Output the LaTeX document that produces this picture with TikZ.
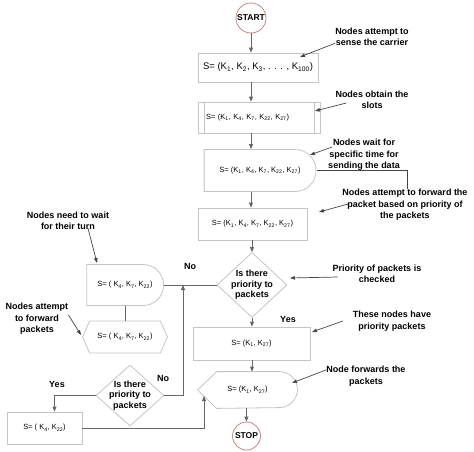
\documentclass[tikz,border=0pt]{standalone}
\usepackage{fontspec}
\setmainfont{Liberation Sans}
\usepackage{xcolor}
\usepackage{tikz}
\usetikzlibrary{positioning,calc,shapes,arrows.meta}
\definecolor{boxgray}{HTML}{C4C4C4}
\definecolor{linegray}{HTML}{666666}
\definecolor{notegray}{HTML}{444444}
\definecolor{ringred}{HTML}{C98484}
\newcommand{\kk}[1]{K\textsubscript{#1}}
\tikzstyle{proc}=[rectangle, draw=boxgray, line width=0.8pt, fill=white, inner sep=1pt, font=\fontsize{7.5}{8.5}\selectfont]
\tikzstyle{waitbox}=[rounded rectangle, rounded rectangle left arc=none, draw=boxgray, line width=0.8pt, inner sep=1pt, font=\fontsize{7.5}{8.5}\selectfont]
\tikzstyle{hexbox}=[signal, signal to=west and east, signal pointer angle=132, draw=boxgray, line width=0.8pt, inner sep=1pt, font=\fontsize{7.5}{8.5}\selectfont]
\tikzstyle{decide}=[diamond, draw=boxgray, line width=0.8pt, inner sep=-6pt, align=center, font=\bfseries\fontsize{9}{10.5}\selectfont]
\tikzstyle{term}=[circle, draw=ringred, line width=0.8pt, inner sep=0pt, font=\bfseries\fontsize{8.5}{9}\selectfont]
\tikzstyle{note}=[align=center, inner sep=0pt, font=\bfseries\fontsize{9}{11.5}\selectfont]
\tikzstyle{flow}=[draw=linegray, line width=0.8pt, -{Triangle[length=5pt,width=4pt]}]
\tikzstyle{link}=[draw=linegray, line width=0.8pt]
\tikzstyle{callout}=[draw=notegray, line width=0.7pt, -{Triangle[length=5pt,width=3.5pt]}]

\begin{document}
\begin{tikzpicture}[x=1pt, y=1pt]
	\useasboundingbox (0,0) rectangle (474,451);
	% main column
	\node[term, minimum size=30] (start) at (251,433) {START};
	\node[proc, minimum width=120, minimum height=29, font=\fontsize{9.5}{10.5}\selectfont] (b1) at (258,383.5) {S= (\kk{1}, \kk{2}, \kk{3}, . . . , \kk{100})};
	\node[proc, text width=106, inner xsep=8, align=left, minimum height=31] (b2) at (259,333.5) {S= (\kk{1}, \kk{4}, \kk{7}, \kk{22}, \kk{27})};
	\draw[boxgray, line width=0.8pt] ([xshift=7]b2.north west) -- ([xshift=7]b2.south west);
	\draw[boxgray, line width=0.8pt] ([xshift=-6]b2.north east) -- ([xshift=-6]b2.south east);
	\node[waitbox, minimum width=114, minimum height=42] (b3) at (260,280.5) {S= (\kk{1}, \kk{4}, \kk{7}, \kk{22}, \kk{27})};
	\node[proc, minimum width=109, minimum height=32] (b4) at (252.5,227) {S= (\kk{1}, \kk{4}, \kk{7}, \kk{22}, \kk{27})};
	\node[decide, minimum width=70, minimum height=65] (d1) at (252,166) {Is there\\priority to\\packets};
	\node[proc, minimum width=117, minimum height=33] (b5) at (251.5,107.5) {S= (\kk{1}, \kk{27})};
	\node[proc, draw=none, fill=none, minimum width=99, minimum height=36] (disp) at (247.5,61) {S= (\kk{1}, \kk{27})};
	\draw[boxgray, line width=0.8pt] (disp.west) -- ([xshift=19]disp.north west) -- ([xshift=-18]disp.north east)
		arc[start angle=90, end angle=-90, radius=18] -- ([xshift=19]disp.south west) -- cycle;
	\node[term, minimum size=28] (stop) at (246.5,15) {STOP};

	% left branch
	\node[waitbox, minimum width=79, minimum height=41] (w1) at (125,166) {S= ( \kk{4}, \kk{7}, \kk{22})};
	\node[hexbox, minimum width=85, minimum height=32] (h1) at (125,114) {S= ( \kk{4}, \kk{7}, \kk{22})};
	\node[decide, minimum width=68, minimum height=61] (d2) at (130,55.5) {Is there\\priority to\\packets};
	\node[proc, minimum width=75, minimum height=32] (b6) at (44.5,23) {S= ( \kk{4}, \kk{22})};
	\coordinate (m1) at (183,166);
	\coordinate (m2) at (204,55);

	\draw[flow] (start) -- (start |- b1.north);
	\draw[flow] (b1.south -| start) -- (b2.north -| start);
	\draw[flow] (b2.south -| start) -- (b3.north -| start);
	\draw[flow] (b3.south -| start) -- (b4.north -| start);
	\draw[flow] (b4.south -| d1) -- (d1.north);
	\draw[flow] (d1.south) -- (d1.south |- b5.north);
	\draw[flow] (b5.south -| d1) -- (disp.north -| d1);
	\draw[flow] (disp.south -| stop) -- (stop.north);
	\draw[link] (d1.west) -- (w1.east);
	\draw[link] (w1.south) -- (h1.north);
	\draw[flow] (d2.east) -| (m1);
	\draw[flow] (d2.west) -| ([xshift=10]b6.north);
	\draw[flow] (b6.east) -| (m2);

	\node[note] (no1) at (190,185) {No};
	\node[note] (yes1) at (288,132) {Yes};
	\node[note] (no2) at (163,73) {No};
	\node[note] (yes2) at (57,67) {Yes};

	% remarks
	\node[note] (n1) at (372,414) {Nodes attempt to\\sense the carrier};
	\node[note] (n2) at (372,351) {Nodes obtain the\\slots};
	\node[note] (n3) at (364,296) {Nodes wait for\\specific time for\\sending the data};
	\node[note] (n4) at (405,246) {Nodes attempt to forward the\\packet based on priority of\\the packets};
	\node[note] (n5) at (377,177) {Priority of packets is\\checked};
	\node[note] (n6) at (392,130) {These nodes have\\priority packets};
	\node[note] (n7) at (366,75) {Node forwards the\\packets};
	\node[note] (n8) at (68,230) {Nodes need to wait\\for their turn};
	\node[note] (n9) at (37,132) {Nodes attempt\\to forward\\packets};
	\coordinate (t1) at (300,394);
	\coordinate (t2) at (315,340);
	\coordinate (t3) at (310,296);
	\coordinate (t4) at (319,239);
	\coordinate (t5) at (290,173);
	\coordinate (t6) at (312,119);
	\coordinate (t7) at (292,68);
	\coordinate (t8) at (97,188);
	\coordinate (t9) at (81,116);

	\draw[callout] ([yshift=3]n1.south west) -- (t1);
	\draw[callout] ([xshift=11,yshift=-3]n2.west) -- (t2);
	\draw[callout] ([xshift=4,yshift=8]n3.west) -- (t3);
	\draw[callout] ([xshift=6,yshift=1]n4.west) -- (t4);
	\draw[callout] ([xshift=5,yshift=-3]n5.west) -- (t5);
	\draw[callout] ([xshift=-10]n6.west) -- (t6);
	\draw[callout] ([yshift=-4]n7.north west) -- (t7);
	\draw[callout] ([xshift=20,yshift=2]n8.south) -- (t8);
	\draw[callout] ([yshift=4]n9.east) -- (t9);
	\draw[link, draw=notegray, line width=0.7pt] (b3.east) -| ([xshift=2]n4.north);
\end{tikzpicture}
\end{document}
